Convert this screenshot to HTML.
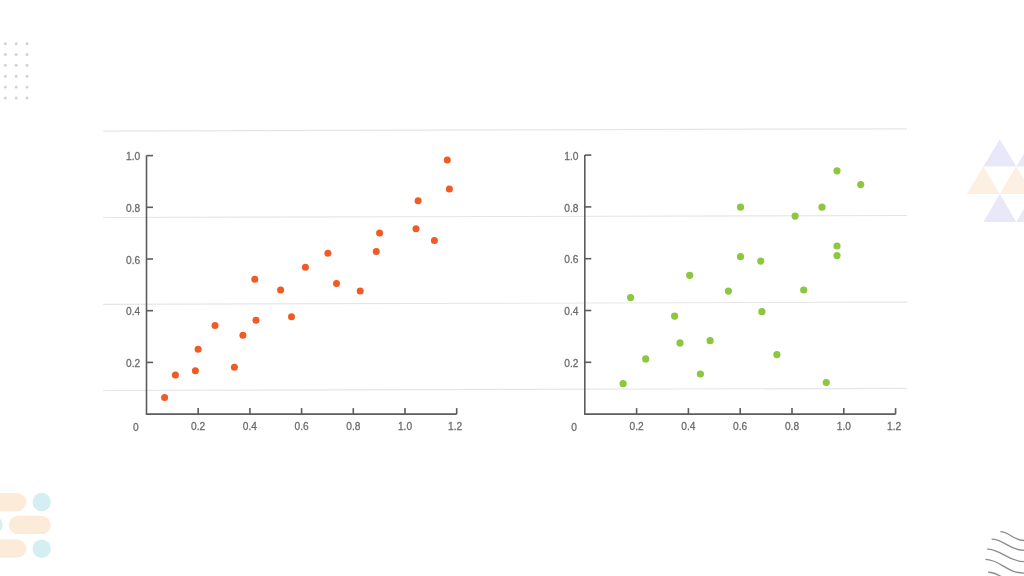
<!DOCTYPE html>
<html><head><meta charset="utf-8"><style>
html,body{margin:0;padding:0;background:#fff;}
body{width:1024px;height:576px;overflow:hidden;position:relative;}
svg{position:absolute;left:0;top:0;display:block;will-change:transform;}
</style></head><body>
<svg width="1024" height="576" viewBox="0 0 1024 576">
<circle cx="5.35" cy="43.66" r="1.5" fill="#d5d1d4"/>
<circle cx="5.35" cy="54.51" r="1.5" fill="#d5d1d4"/>
<circle cx="5.35" cy="65.36" r="1.5" fill="#d5d1d4"/>
<circle cx="5.35" cy="76.21" r="1.5" fill="#d5d1d4"/>
<circle cx="5.35" cy="87.06" r="1.5" fill="#d5d1d4"/>
<circle cx="5.35" cy="97.91" r="1.5" fill="#d5d1d4"/>
<circle cx="16.2" cy="43.66" r="1.5" fill="#d5d1d4"/>
<circle cx="16.2" cy="54.51" r="1.5" fill="#d5d1d4"/>
<circle cx="16.2" cy="65.36" r="1.5" fill="#d5d1d4"/>
<circle cx="16.2" cy="76.21" r="1.5" fill="#d5d1d4"/>
<circle cx="16.2" cy="87.06" r="1.5" fill="#d5d1d4"/>
<circle cx="16.2" cy="97.91" r="1.5" fill="#d5d1d4"/>
<circle cx="27" cy="43.66" r="1.5" fill="#d5d1d4"/>
<circle cx="27" cy="54.51" r="1.5" fill="#d5d1d4"/>
<circle cx="27" cy="65.36" r="1.5" fill="#d5d1d4"/>
<circle cx="27" cy="76.21" r="1.5" fill="#d5d1d4"/>
<circle cx="27" cy="87.06" r="1.5" fill="#d5d1d4"/>
<circle cx="27" cy="97.91" r="1.5" fill="#d5d1d4"/>
<line x1="103.2" y1="131.1" x2="907.1" y2="128.8" stroke="#e6e6e6" stroke-width="1.2"/>
<line x1="103.2" y1="217.5" x2="907.1" y2="215.5" stroke="#e6e6e6" stroke-width="1.2"/>
<line x1="103.2" y1="304.4" x2="907.1" y2="302.1" stroke="#e6e6e6" stroke-width="1.2"/>
<line x1="103.2" y1="390.5" x2="907.1" y2="388.4" stroke="#e6e6e6" stroke-width="1.2"/>
<g font-family="Liberation Sans, sans-serif" font-size="11.6" fill="#6b6b6b" stroke="#6b6b6b" stroke-width="0.3">
<path d="M146.5 155.60000000000002 L146.5 414.1 L456.70000000000005 414.1" fill="none" stroke="#5c5c5c" stroke-width="1.6"/>
<line x1="146.5" y1="362.40" x2="153.0" y2="362.40" stroke="#5c5c5c" stroke-width="1.6"/>
<line x1="146.5" y1="310.70" x2="153.0" y2="310.70" stroke="#5c5c5c" stroke-width="1.6"/>
<line x1="146.5" y1="259.00" x2="153.0" y2="259.00" stroke="#5c5c5c" stroke-width="1.6"/>
<line x1="146.5" y1="207.30" x2="153.0" y2="207.30" stroke="#5c5c5c" stroke-width="1.6"/>
<line x1="146.5" y1="155.60" x2="153.0" y2="155.60" stroke="#5c5c5c" stroke-width="1.6"/>
<line x1="198.20" y1="414.1" x2="198.20" y2="408.1" stroke="#5c5c5c" stroke-width="1.6"/>
<line x1="249.90" y1="414.1" x2="249.90" y2="408.1" stroke="#5c5c5c" stroke-width="1.6"/>
<line x1="301.60" y1="414.1" x2="301.60" y2="408.1" stroke="#5c5c5c" stroke-width="1.6"/>
<line x1="353.30" y1="414.1" x2="353.30" y2="408.1" stroke="#5c5c5c" stroke-width="1.6"/>
<line x1="405.00" y1="414.1" x2="405.00" y2="408.1" stroke="#5c5c5c" stroke-width="1.6"/>
<line x1="456.70" y1="414.1" x2="456.70" y2="408.1" stroke="#5c5c5c" stroke-width="1.6"/>
<text transform="translate(140.20 367.10) scale(0.88 1)" text-anchor="end">0.2</text>
<text transform="translate(140.20 315.40) scale(0.88 1)" text-anchor="end">0.4</text>
<text transform="translate(140.20 263.70) scale(0.88 1)" text-anchor="end">0.6</text>
<text transform="translate(140.20 212.00) scale(0.88 1)" text-anchor="end">0.8</text>
<text transform="translate(140.20 160.30) scale(0.88 1)" text-anchor="end">1.0</text>
<text transform="translate(198.20 429.80) scale(0.88 1)" text-anchor="middle">0.2</text>
<text transform="translate(249.90 429.80) scale(0.88 1)" text-anchor="middle">0.4</text>
<text transform="translate(301.60 429.80) scale(0.88 1)" text-anchor="middle">0.6</text>
<text transform="translate(353.30 429.80) scale(0.88 1)" text-anchor="middle">0.8</text>
<text transform="translate(405.00 429.80) scale(0.88 1)" text-anchor="middle">1.0</text>
<text transform="translate(455.20 429.80) scale(0.88 1)" text-anchor="middle">1.2</text>
<text transform="translate(135.80 430.70) scale(0.88 1)" text-anchor="middle">0</text>
<path d="M584.8 155.10000000000002 L584.8 414.1 L895.5999999999999 414.1" fill="none" stroke="#5c5c5c" stroke-width="1.6"/>
<line x1="584.8" y1="362.30" x2="591.3" y2="362.30" stroke="#5c5c5c" stroke-width="1.6"/>
<line x1="584.8" y1="310.50" x2="591.3" y2="310.50" stroke="#5c5c5c" stroke-width="1.6"/>
<line x1="584.8" y1="258.70" x2="591.3" y2="258.70" stroke="#5c5c5c" stroke-width="1.6"/>
<line x1="584.8" y1="206.90" x2="591.3" y2="206.90" stroke="#5c5c5c" stroke-width="1.6"/>
<line x1="584.8" y1="155.10" x2="591.3" y2="155.10" stroke="#5c5c5c" stroke-width="1.6"/>
<line x1="636.60" y1="414.1" x2="636.60" y2="408.1" stroke="#5c5c5c" stroke-width="1.6"/>
<line x1="688.40" y1="414.1" x2="688.40" y2="408.1" stroke="#5c5c5c" stroke-width="1.6"/>
<line x1="740.20" y1="414.1" x2="740.20" y2="408.1" stroke="#5c5c5c" stroke-width="1.6"/>
<line x1="792.00" y1="414.1" x2="792.00" y2="408.1" stroke="#5c5c5c" stroke-width="1.6"/>
<line x1="843.80" y1="414.1" x2="843.80" y2="408.1" stroke="#5c5c5c" stroke-width="1.6"/>
<line x1="895.60" y1="414.1" x2="895.60" y2="408.1" stroke="#5c5c5c" stroke-width="1.6"/>
<text transform="translate(578.50 367.00) scale(0.88 1)" text-anchor="end">0.2</text>
<text transform="translate(578.50 315.20) scale(0.88 1)" text-anchor="end">0.4</text>
<text transform="translate(578.50 263.40) scale(0.88 1)" text-anchor="end">0.6</text>
<text transform="translate(578.50 211.60) scale(0.88 1)" text-anchor="end">0.8</text>
<text transform="translate(578.50 159.80) scale(0.88 1)" text-anchor="end">1.0</text>
<text transform="translate(636.60 429.80) scale(0.88 1)" text-anchor="middle">0.2</text>
<text transform="translate(688.40 429.80) scale(0.88 1)" text-anchor="middle">0.4</text>
<text transform="translate(740.20 429.80) scale(0.88 1)" text-anchor="middle">0.6</text>
<text transform="translate(792.00 429.80) scale(0.88 1)" text-anchor="middle">0.8</text>
<text transform="translate(843.80 429.80) scale(0.88 1)" text-anchor="middle">1.0</text>
<text transform="translate(894.10 429.80) scale(0.88 1)" text-anchor="middle">1.2</text>
<text transform="translate(574.10 430.70) scale(0.88 1)" text-anchor="middle">0</text>
</g>
<circle cx="164.6" cy="397.5" r="3.5" fill="#f05a24"/>
<circle cx="175.4" cy="375" r="3.5" fill="#f05a24"/>
<circle cx="195.4" cy="370.8" r="3.5" fill="#f05a24"/>
<circle cx="198.1" cy="349.2" r="3.5" fill="#f05a24"/>
<circle cx="215" cy="325.4" r="3.5" fill="#f05a24"/>
<circle cx="234.4" cy="367.3" r="3.5" fill="#f05a24"/>
<circle cx="242.9" cy="335.2" r="3.5" fill="#f05a24"/>
<circle cx="256" cy="320.2" r="3.5" fill="#f05a24"/>
<circle cx="254.8" cy="279.2" r="3.5" fill="#f05a24"/>
<circle cx="280.6" cy="290" r="3.5" fill="#f05a24"/>
<circle cx="291.5" cy="316.7" r="3.5" fill="#f05a24"/>
<circle cx="305.4" cy="267.3" r="3.5" fill="#f05a24"/>
<circle cx="327.9" cy="253.3" r="3.5" fill="#f05a24"/>
<circle cx="336.5" cy="283.5" r="3.5" fill="#f05a24"/>
<circle cx="360.2" cy="291" r="3.5" fill="#f05a24"/>
<circle cx="376.25" cy="251.4" r="3.5" fill="#f05a24"/>
<circle cx="379.6" cy="232.9" r="3.5" fill="#f05a24"/>
<circle cx="418.1" cy="200.8" r="3.5" fill="#f05a24"/>
<circle cx="416" cy="228.75" r="3.5" fill="#f05a24"/>
<circle cx="434.4" cy="240.6" r="3.5" fill="#f05a24"/>
<circle cx="447.3" cy="160" r="3.5" fill="#f05a24"/>
<circle cx="449.4" cy="189" r="3.5" fill="#f05a24"/>
<circle cx="623.1" cy="383.7" r="3.6" fill="#8dc63f"/>
<circle cx="630.6" cy="297.59999999999997" r="3.6" fill="#8dc63f"/>
<circle cx="645.7" cy="358.9" r="3.6" fill="#8dc63f"/>
<circle cx="674.6" cy="316.09999999999997" r="3.6" fill="#8dc63f"/>
<circle cx="680" cy="342.9" r="3.6" fill="#8dc63f"/>
<circle cx="689.7" cy="275.3" r="3.6" fill="#8dc63f"/>
<circle cx="700.4" cy="374.0" r="3.6" fill="#8dc63f"/>
<circle cx="710.1" cy="340.7" r="3.6" fill="#8dc63f"/>
<circle cx="728.4" cy="291.09999999999997" r="3.6" fill="#8dc63f"/>
<circle cx="740.5" cy="207.2" r="3.6" fill="#8dc63f"/>
<circle cx="740.5" cy="256.7" r="3.6" fill="#8dc63f"/>
<circle cx="760.8" cy="261.09999999999997" r="3.6" fill="#8dc63f"/>
<circle cx="761.9" cy="311.7" r="3.6" fill="#8dc63f"/>
<circle cx="776.9" cy="354.59999999999997" r="3.6" fill="#8dc63f"/>
<circle cx="795.1" cy="216.1" r="3.6" fill="#8dc63f"/>
<circle cx="803.7" cy="290.0" r="3.6" fill="#8dc63f"/>
<circle cx="822" cy="207.2" r="3.6" fill="#8dc63f"/>
<circle cx="826.25" cy="382.5" r="3.6" fill="#8dc63f"/>
<circle cx="837" cy="170.79999999999998" r="3.6" fill="#8dc63f"/>
<circle cx="837" cy="246.0" r="3.6" fill="#8dc63f"/>
<circle cx="837" cy="255.6" r="3.6" fill="#8dc63f"/>
<circle cx="860.7" cy="184.6" r="3.6" fill="#8dc63f"/>
<g fill="#e8e8f9">
<polygon points="983.35,166.50 1016.25,166.50 999.80,139.20"/>
<polygon points="983.35,222.00 1016.25,222.00 999.80,194.00"/>
<polygon points="1016.25,166.50 1049.15,166.50 1032.70,139.20"/>
<polygon points="1016.25,222.00 1049.15,222.00 1032.70,194.00"/>
</g>
<g fill="#fdf0e2">
<polygon points="966.85,194.00 999.75,194.00 983.30,166.25"/>
<polygon points="999.75,194.00 1032.65,194.00 1016.20,166.25"/>
</g>
<rect x="-20" y="493" width="46.3" height="18.2" rx="9.1" fill="#fdebd9"/>
<rect x="8.8" y="515.8" width="42" height="18.3" rx="9.15" fill="#fdebd9"/>
<rect x="-20" y="539.2" width="46.3" height="18.6" rx="9.3" fill="#fdebd9"/>
<circle cx="41.7" cy="502" r="9.2" fill="#d4eef2"/>
<circle cx="-6.5" cy="524.7" r="9.2" fill="#d4eef2"/>
<circle cx="41.7" cy="548.7" r="9.2" fill="#d4eef2"/>
<g fill="none" stroke="#8e8e8e" stroke-width="1.4">
<path d="M1000.25 531.6 C1009.27 531.60 1013.31 540.50 1024 540.5"/>
<path d="M991.6 539.1 C1003.91 539.10 1009.42 550.40 1024 550.4"/>
<path d="M987.1 549.1 C1001.12 549.10 1007.39 561.60 1024 561.6"/>
<path d="M985.4 559.4 C1000.07 559.40 1006.63 573.10 1024 573.1"/>
<path d="M988.2 572.25 C1002.56 572.25 1008.99 587.00 1026 587"/>
</g>
</svg>
</body></html>
